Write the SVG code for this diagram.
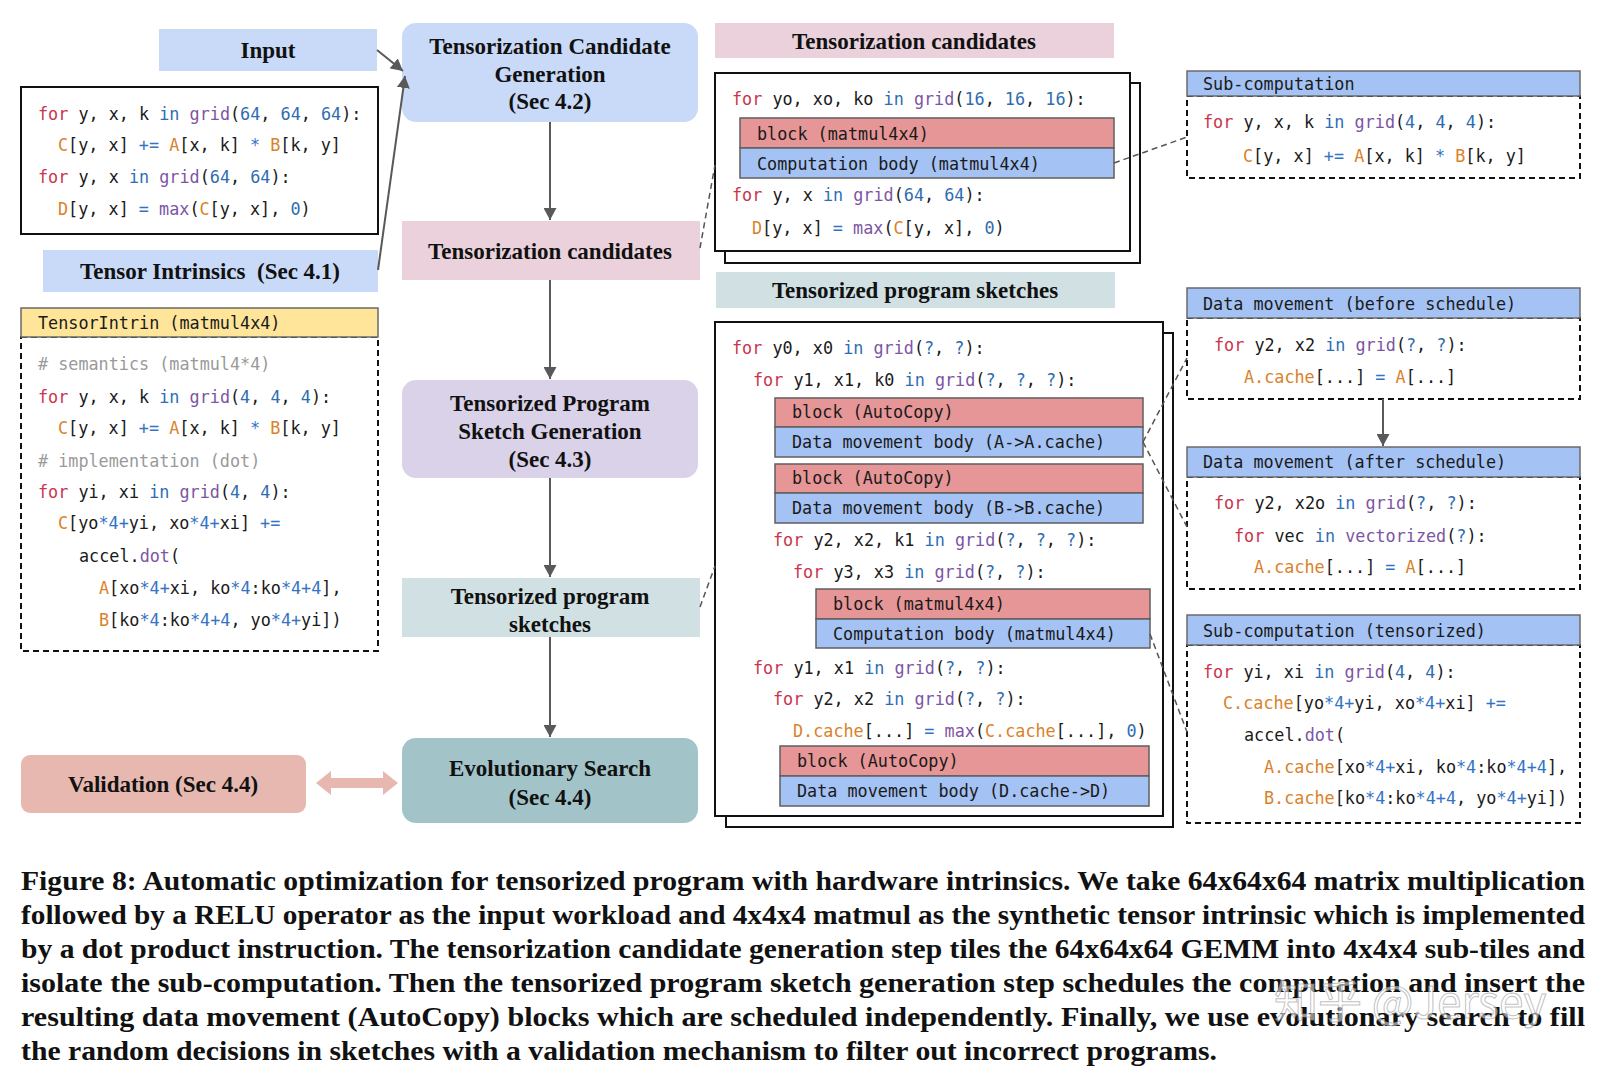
<svg xmlns="http://www.w3.org/2000/svg" width="1613" height="1073" viewBox="0 0 1613 1073">
<defs>
<marker id="ah" markerUnits="userSpaceOnUse" markerWidth="12" markerHeight="13" refX="12" refY="6.5" orient="auto">
<path d="M0,0 L12,6.5 L0,13 z" fill="#595959"/>
</marker>
<style>
.h{font-family:"Liberation Serif","Times New Roman",serif;font-weight:bold;font-size:23px;fill:#111;text-anchor:middle;dominant-baseline:central}
.m{font-family:"DejaVu Sans Mono","Liberation Mono",monospace;font-size:16.8px;fill:#1a1a1a;white-space:pre}
.k{fill:#c9364f}.i{fill:#2e6db4}.f{fill:#7d55a4}.n{fill:#2f6db0}.v{fill:#d9822b}.o{fill:#3574c4}.c{fill:#9a9a9a}
.red{fill:#e69696;stroke:#5f5f5f;stroke-width:1.5}
.blue{fill:#a4c2f4;stroke:#5f5f5f;stroke-width:1.5}
.hdr{fill:#a4c2f4;stroke:#6a6a6a;stroke-width:1.5}
.dash{fill:#fff;stroke:#111;stroke-width:2;stroke-dasharray:6 4}
.solid{fill:#fff;stroke:#111;stroke-width:2}
.arr{stroke:#595959;stroke-width:2;fill:none;marker-end:url(#ah)}
.dl{stroke:#555;stroke-width:1.5;stroke-dasharray:6 4;fill:none}
.cap{font-family:"Liberation Serif","Times New Roman",serif;font-weight:bold;font-size:27px;fill:#111}
</style>
</defs>
<rect width="1613" height="1073" fill="#fff"/>

<g id="input">
<rect x="159" y="29" width="218" height="42" fill="#c9daf8"/>
<text class="h" x="268" y="50">Input</text>
</g>

<g id="input-code">
<rect class="solid" x="21" y="87" width="357" height="147"/>
<text class="m" x="38" y="120"><tspan class="k">for</tspan> y, x, k <tspan class="i">in</tspan> <tspan class="f">grid</tspan>(<tspan class="n">64</tspan>, <tspan class="n">64</tspan>, <tspan class="n">64</tspan>):</text>
<text class="m" x="58" y="151"><tspan class="v">C</tspan>[y, x] <tspan class="o">+=</tspan> <tspan class="v">A</tspan>[x, k] <tspan class="o">*</tspan> <tspan class="v">B</tspan>[k, y]</text>
<text class="m" x="38" y="183"><tspan class="k">for</tspan> y, x <tspan class="i">in</tspan> <tspan class="f">grid</tspan>(<tspan class="n">64</tspan>, <tspan class="n">64</tspan>):</text>
<text class="m" x="58" y="215"><tspan class="v">D</tspan>[y, x] <tspan class="o">=</tspan> <tspan class="f">max</tspan>(<tspan class="v">C</tspan>[y, x], <tspan class="n">0</tspan>)</text>
</g>

<g id="tensor-intrinsics">
<rect x="43" y="250" width="335" height="42" fill="#c9daf8"/>
<text class="h" x="210" y="271" xml:space="preserve">Tensor Intrinsics  (Sec 4.1)</text>
</g>

<g id="tensorintrin-code">
<rect class="dash" x="21" y="337" width="357" height="314"/>
<rect x="21" y="308" width="357" height="29" fill="#ffe599" stroke="#6a6a6a" stroke-width="1.5"/>
<text class="m" x="38" y="329">TensorIntrin (matmul4x4)</text>
<text class="m c" x="38" y="370"># semantics (matmul4*4)</text>
<text class="m" x="38" y="403"><tspan class="k">for</tspan> y, x, k <tspan class="i">in</tspan> <tspan class="f">grid</tspan>(<tspan class="n">4</tspan>, <tspan class="n">4</tspan>, <tspan class="n">4</tspan>):</text>
<text class="m" x="58" y="434"><tspan class="v">C</tspan>[y, x] <tspan class="o">+=</tspan> <tspan class="v">A</tspan>[x, k] <tspan class="o">*</tspan> <tspan class="v">B</tspan>[k, y]</text>
<text class="m c" x="38" y="467"># implementation (dot)</text>
<text class="m" x="38" y="498"><tspan class="k">for</tspan> yi, xi <tspan class="i">in</tspan> <tspan class="f">grid</tspan>(<tspan class="n">4</tspan>, <tspan class="n">4</tspan>):</text>
<text class="m" x="58" y="529"><tspan class="v">C</tspan>[yo<tspan class="o">*4+</tspan>yi, xo<tspan class="o">*4+</tspan>xi] <tspan class="o">+=</tspan></text>
<text class="m" x="79" y="562">accel.<tspan class="f">dot</tspan>(</text>
<text class="m" x="99" y="594"><tspan class="v">A</tspan>[xo<tspan class="o">*4+</tspan>xi, ko<tspan class="o">*4</tspan>:ko<tspan class="o">*4+4</tspan>],</text>
<text class="m" x="99" y="626"><tspan class="v">B</tspan>[ko<tspan class="o">*4</tspan>:ko<tspan class="o">*4+4</tspan>, yo<tspan class="o">*4+</tspan>yi])</text>
</g>

<g id="tc-generation">
<rect x="402" y="23" width="296" height="99" rx="14" fill="#c9daf8"/>
<text class="h" x="550" y="46">Tensorization Candidate</text>
<text class="h" x="550" y="74">Generation</text>
<text class="h" x="550" y="101">(Sec 4.2)</text>
</g>

<g id="tc-candidates">
<rect x="402" y="221" width="298" height="59" fill="#ead1dc"/>
<text class="h" x="550" y="251">Tensorization candidates</text>
</g>

<g id="sketch-generation">
<rect x="402" y="380" width="296" height="98" rx="14" fill="#d9d2e9"/>
<text class="h" x="550" y="403">Tensorized Program</text>
<text class="h" x="550" y="431">Sketch Generation</text>
<text class="h" x="550" y="459">(Sec 4.3)</text>
</g>

<g id="sketches">
<rect x="402" y="578" width="298" height="59" fill="#d0e0e3"/>
<text class="h" x="550" y="596">Tensorized program</text>
<text class="h" x="550" y="624">sketches</text>
</g>

<g id="evolutionary-search">
<rect x="402" y="738" width="296" height="85" rx="14" fill="#a2c4c9"/>
<text class="h" x="550" y="768">Evolutionary Search</text>
<text class="h" x="550" y="797">(Sec 4.4)</text>
</g>

<g id="validation">
<rect x="21" y="755" width="285" height="58" rx="9" fill="#e6b8af"/>
<text class="h" x="163" y="784">Validation (Sec 4.4)</text>
</g>

<g id="candidates-panel">
<rect x="715" y="23" width="399" height="35" fill="#ead1dc"/>
<text class="h" x="914" y="41">Tensorization candidates</text>
<rect class="solid" x="725" y="83" width="415" height="180"/>
<rect class="solid" x="715" y="73" width="415" height="178"/>
<text class="m" x="732" y="105"><tspan class="k">for</tspan> yo, xo, ko <tspan class="i">in</tspan> <tspan class="f">grid</tspan>(<tspan class="n">16</tspan>, <tspan class="n">16</tspan>, <tspan class="n">16</tspan>):</text>
<rect class="red" x="740" y="118" width="374" height="30"/>
<rect class="blue" x="740" y="148" width="374" height="30"/>
<text class="m" x="757" y="140">block (matmul4x4)</text>
<text class="m" x="757" y="170">Computation body (matmul4x4)</text>
<text class="m" x="732" y="201"><tspan class="k">for</tspan> y, x <tspan class="i">in</tspan> <tspan class="f">grid</tspan>(<tspan class="n">64</tspan>, <tspan class="n">64</tspan>):</text>
<text class="m" x="752" y="234"><tspan class="v">D</tspan>[y, x] <tspan class="o">=</tspan> <tspan class="f">max</tspan>(<tspan class="v">C</tspan>[y, x], <tspan class="n">0</tspan>)</text>
</g>

<g id="sub-computation">
<rect class="dash" x="1187" y="96" width="393" height="82"/>
<rect class="hdr" x="1187" y="71" width="393" height="25"/>
<text class="m" x="1203" y="90">Sub-computation</text>
<text class="m" x="1203" y="128"><tspan class="k">for</tspan> y, x, k <tspan class="i">in</tspan> <tspan class="f">grid</tspan>(<tspan class="n">4</tspan>, <tspan class="n">4</tspan>, <tspan class="n">4</tspan>):</text>
<text class="m" x="1243" y="162"><tspan class="v">C</tspan>[y, x] <tspan class="o">+=</tspan> <tspan class="v">A</tspan>[x, k] <tspan class="o">*</tspan> <tspan class="v">B</tspan>[k, y]</text>
</g>

<g id="sketches-panel">
<rect x="716" y="272" width="399" height="36" fill="#d0e0e3"/>
<text class="h" x="915" y="290">Tensorized program sketches</text>
<rect class="solid" x="726" y="333" width="447" height="494"/>
<rect class="solid" x="715" y="322" width="448" height="494"/>
<text class="m" x="732" y="354"><tspan class="k">for</tspan> y0, x0 <tspan class="i">in</tspan> <tspan class="f">grid</tspan>(<tspan class="n">?</tspan>, <tspan class="n">?</tspan>):</text>
<text class="m" x="753" y="386"><tspan class="k">for</tspan> y1, x1, k0 <tspan class="i">in</tspan> <tspan class="f">grid</tspan>(<tspan class="n">?</tspan>, <tspan class="n">?</tspan>, <tspan class="n">?</tspan>):</text>
<rect class="red" x="775" y="398" width="368" height="29"/>
<rect class="blue" x="775" y="427" width="368" height="30"/>
<text class="m" x="792" y="418">block (AutoCopy)</text>
<text class="m" x="792" y="448">Data movement body (A-&gt;A.cache)</text>
<rect class="red" x="775" y="464" width="368" height="29"/>
<rect class="blue" x="775" y="493" width="368" height="30"/>
<text class="m" x="792" y="484">block (AutoCopy)</text>
<text class="m" x="792" y="514">Data movement body (B-&gt;B.cache)</text>
<text class="m" x="773" y="546"><tspan class="k">for</tspan> y2, x2, k1 <tspan class="i">in</tspan> <tspan class="f">grid</tspan>(<tspan class="n">?</tspan>, <tspan class="n">?</tspan>, <tspan class="n">?</tspan>):</text>
<text class="m" x="793" y="578"><tspan class="k">for</tspan> y3, x3 <tspan class="i">in</tspan> <tspan class="f">grid</tspan>(<tspan class="n">?</tspan>, <tspan class="n">?</tspan>):</text>
<rect class="red" x="816" y="589" width="334" height="30"/>
<rect class="blue" x="816" y="619" width="334" height="29"/>
<text class="m" x="833" y="610">block (matmul4x4)</text>
<text class="m" x="833" y="640">Computation body (matmul4x4)</text>
<text class="m" x="753" y="674"><tspan class="k">for</tspan> y1, x1 <tspan class="i">in</tspan> <tspan class="f">grid</tspan>(<tspan class="n">?</tspan>, <tspan class="n">?</tspan>):</text>
<text class="m" x="773" y="705"><tspan class="k">for</tspan> y2, x2 <tspan class="i">in</tspan> <tspan class="f">grid</tspan>(<tspan class="n">?</tspan>, <tspan class="n">?</tspan>):</text>
<text class="m" x="793" y="737"><tspan class="v">D.cache</tspan>[...] <tspan class="o">=</tspan> <tspan class="f">max</tspan>(<tspan class="v">C.cache</tspan>[...], <tspan class="n">0</tspan>)</text>
<rect class="red" x="780" y="746" width="369" height="30"/>
<rect class="blue" x="780" y="776" width="369" height="30"/>
<text class="m" x="797" y="767">block (AutoCopy)</text>
<text class="m" x="797" y="797">Data movement body (D.cache-&gt;D)</text>
</g>

<g id="dm-before">
<rect class="dash" x="1187" y="318" width="393" height="81"/>
<rect class="hdr" x="1187" y="288" width="393" height="30"/>
<text class="m" x="1203" y="310">Data movement (before schedule)</text>
<text class="m" x="1214" y="351"><tspan class="k">for</tspan> y2, x2 <tspan class="i">in</tspan> <tspan class="f">grid</tspan>(<tspan class="n">?</tspan>, <tspan class="n">?</tspan>):</text>
<text class="m" x="1244" y="383"><tspan class="v">A.cache</tspan>[...] <tspan class="o">=</tspan> <tspan class="v">A</tspan>[...]</text>
</g>

<g id="dm-after">
<rect class="dash" x="1187" y="477" width="393" height="112"/>
<rect class="hdr" x="1187" y="447" width="393" height="30"/>
<text class="m" x="1203" y="468">Data movement (after schedule)</text>
<text class="m" x="1214" y="509"><tspan class="k">for</tspan> y2, x2o <tspan class="i">in</tspan> <tspan class="f">grid</tspan>(<tspan class="n">?</tspan>, <tspan class="n">?</tspan>):</text>
<text class="m" x="1234" y="542"><tspan class="k">for</tspan> vec <tspan class="i">in</tspan> <tspan class="f">vectorized</tspan>(<tspan class="n">?</tspan>):</text>
<text class="m" x="1254" y="573"><tspan class="v">A.cache</tspan>[...] <tspan class="o">=</tspan> <tspan class="v">A</tspan>[...]</text>
</g>

<g id="sub-computation-tensorized">
<rect class="dash" x="1187" y="645" width="393" height="178"/>
<rect class="hdr" x="1187" y="615" width="393" height="30"/>
<text class="m" x="1203" y="637">Sub-computation (tensorized)</text>
<text class="m" x="1203" y="678"><tspan class="k">for</tspan> yi, xi <tspan class="i">in</tspan> <tspan class="f">grid</tspan>(<tspan class="n">4</tspan>, <tspan class="n">4</tspan>):</text>
<text class="m" x="1223" y="709"><tspan class="v">C.cache</tspan>[yo<tspan class="o">*4+</tspan>yi, xo<tspan class="o">*4+</tspan>xi] <tspan class="o">+=</tspan></text>
<text class="m" x="1244" y="741">accel.<tspan class="f">dot</tspan>(</text>
<text class="m" x="1264" y="773"><tspan class="v">A.cache</tspan>[xo<tspan class="o">*4+</tspan>xi, ko<tspan class="o">*4</tspan>:ko<tspan class="o">*4+4</tspan>],</text>
<text class="m" x="1264" y="804"><tspan class="v">B.cache</tspan>[ko<tspan class="o">*4</tspan>:ko<tspan class="o">*4+4</tspan>, yo<tspan class="o">*4+</tspan>yi])</text>
</g>

<g id="connectors">
<line class="arr" x1="377" y1="50" x2="403" y2="71"/>
<line class="arr" x1="378" y1="270" x2="405" y2="76"/>
<line class="arr" x1="550" y1="122" x2="550" y2="220"/>
<line class="arr" x1="550" y1="280" x2="550" y2="379"/>
<line class="arr" x1="550" y1="478" x2="550" y2="577"/>
<line class="arr" x1="550" y1="637" x2="550" y2="737"/>
<line class="arr" x1="1383" y1="399" x2="1383" y2="446"/>
<polygon points="316,783 331,771 331,778 383,778 383,771 398,783 383,795 383,788 331,788 331,795" fill="#e6b8af"/>
<line class="dl" x1="700" y1="248" x2="715" y2="165"/>
<line class="dl" x1="1114" y1="163" x2="1187" y2="137"/>
<line class="dl" x1="1143" y1="442" x2="1187" y2="358"/>
<line class="dl" x1="1143" y1="442" x2="1187" y2="527"/>
<line class="dl" x1="1150" y1="634" x2="1187" y2="732"/>
<line class="dl" x1="700" y1="607" x2="715" y2="566"/>
</g>

<g id="caption">
<text class="cap" x="21" y="890" textLength="1564" lengthAdjust="spacingAndGlyphs">Figure 8: Automatic optimization for tensorized program with hardware intrinsics. We take 64x64x64 matrix multiplication</text>
<text class="cap" x="21" y="924" textLength="1564" lengthAdjust="spacingAndGlyphs">followed by a RELU operator as the input workload and 4x4x4 matmul as the synthetic tensor intrinsic which is implemented</text>
<text class="cap" x="21" y="958" textLength="1564" lengthAdjust="spacingAndGlyphs">by a dot product instruction. The tensorization candidate generation step tiles the 64x64x64 GEMM into 4x4x4 sub-tiles and</text>
<text class="cap" x="21" y="992" textLength="1564" lengthAdjust="spacingAndGlyphs">isolate the sub-computation. Then the tensorized program sketch generation step schedules the computation and insert the</text>
<text class="cap" x="21" y="1026" textLength="1564" lengthAdjust="spacingAndGlyphs">resulting data movement (AutoCopy) blocks which are scheduled independently. Finally, we use evolutionary search to fill</text>
<text class="cap" x="21" y="1060" textLength="1196" lengthAdjust="spacingAndGlyphs">the random decisions in sketches with a validation mechanism to filter out incorrect programs.</text>
</g>

<text x="1274" y="1018" font-family="Noto Sans CJK SC, sans-serif" font-size="44" fill="#ffffff" fill-opacity="0.55" stroke="#8a8a8a" stroke-opacity="0.55" stroke-width="1">知乎 @Jersey</text>
</svg>
